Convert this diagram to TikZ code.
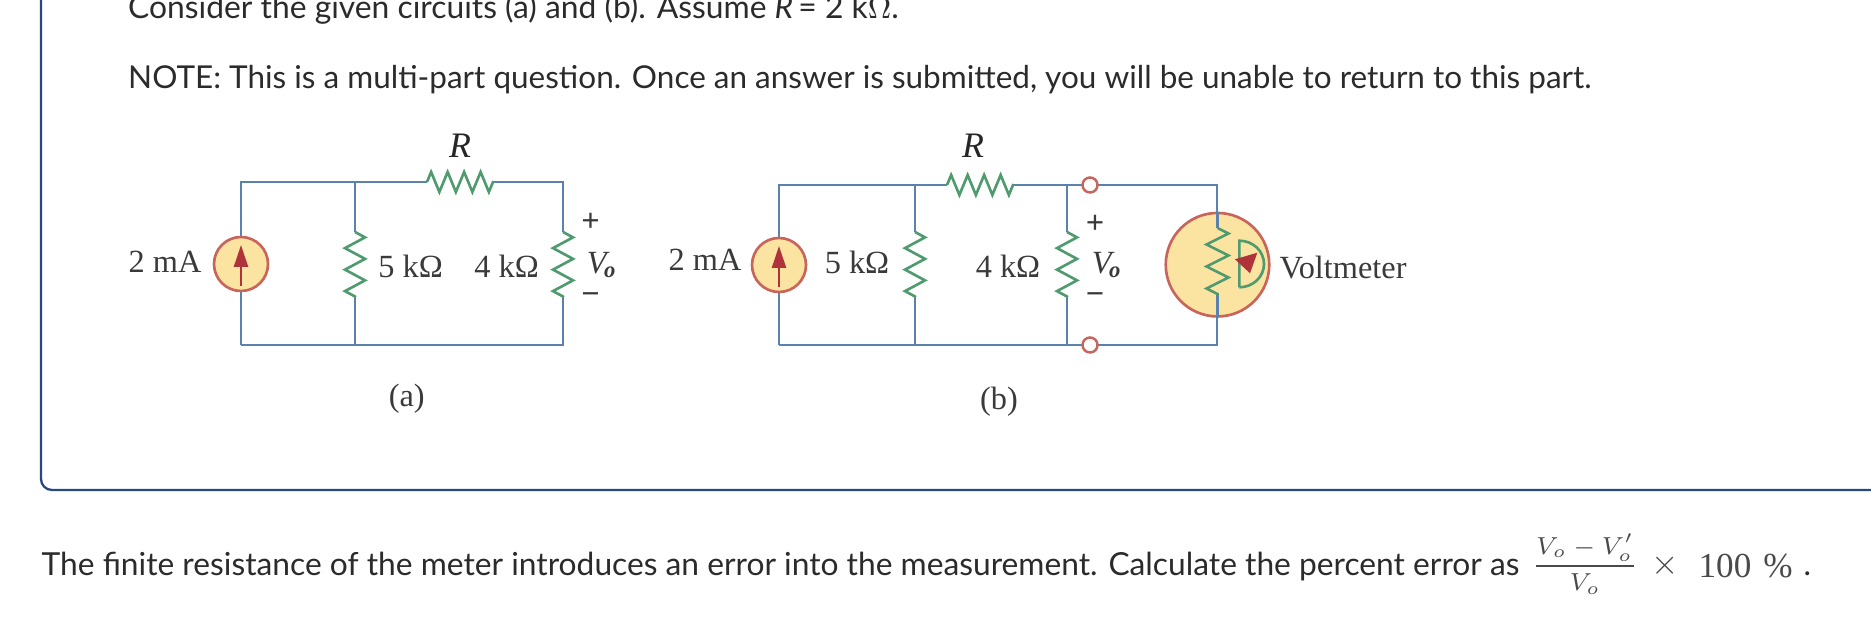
\documentclass[tikz,border=0pt]{standalone}
\usepackage{fontspec}
\setmainfont{Lato}
\newfontfamily\figfont{Liberation Serif}
\usetikzlibrary{arrows.meta,decorations.pathmorphing}
\definecolor{wireblue}{HTML}{5B82AE}
\definecolor{resgreen}{HTML}{4F9A6E}
\definecolor{srcfill}{HTML}{FBE4A2}
\definecolor{srcedge}{HTML}{C8645A}
\definecolor{srcarrow}{HTML}{B0323A}
\definecolor{framecol}{HTML}{27497F}
\definecolor{bodytext}{HTML}{2B2B2B}
\definecolor{mathtext}{HTML}{4A4A4A}
\definecolor{figtext}{HTML}{3A3A3A}
\newcommand{\Vout}{\textit{V\kern-0.08em\textsubscript{\textbf{o}}}}
\tikzset{
  wire/.style={draw=wireblue, line width=0.7pt},
  resistor/.style={draw=resgreen, line width=0.75pt, decorate, decoration={zigzag, segment length=0.165cm, amplitude=0.1cm}},
  vresistor/.style={draw=resgreen, line width=0.75pt, decorate, decoration={zigzag, segment length=0.215cm, amplitude=0.1cm}},
  source/.style={circle, draw=srcedge, fill=srcfill, line width=0.75pt, minimum size=0.54cm, inner sep=0pt},
  terminal/.style={circle, draw=srcedge, fill=white, line width=0.7pt, minimum size=0.15cm, inner sep=0pt},
  figlabel/.style={inner sep=0pt, text=figtext, font=\figfont\fontsize{9.2}{10}\selectfont},
  reslabel/.style={inner sep=0pt, text=black!85, font=\figfont\fontsize{10.2}{11}\selectfont\itshape},
  body/.style={anchor=base west, inner sep=0pt, text=bodytext, font=\fontsize{9}{10}\selectfont},
  mathlabel/.style={inner sep=0pt, text=mathtext, font=\fontsize{7.2}{9}\selectfont}
}
\begin{document}
\begin{tikzpicture}
        \useasboundingbox (0,0) rectangle (18.71,-6.24);
        \clip (0,0) rectangle (18.71,-6.24);

        \coordinate (frametop) at (0.41,0.1);
        \coordinate (framecorner) at (0.41,-4.9);
        \coordinate (frameend) at (18.9,-4.9);
        \draw[draw=framecol, line width=0.65pt, rounded corners=0.11cm] (frametop) -- (framecorner) -- (frameend);

        \node[body, font=\fontsize{9.05}{10}\selectfont] (line1) at (1.275,-0.19) {Consider the given circuits (a) and (b). Assume \textit{R}\,= 2 k$\Omega$.};
        \node[body, font=\fontsize{8.96}{10}\selectfont] (line2) at (1.275,-0.89) {NOTE: This is a multi-part question. Once an answer is submitted, you will be unable to return to this part.};
        \node[body, font=\fontsize{9.03}{10}\selectfont] (line3) at (0.41,-5.75) {The finite resistance of the meter introduces an error into the measurement. Calculate the percent error as};

        \node[mathlabel] (errfrac) at (15.85,-5.64) {$\displaystyle\frac{V_o - V_o'}{V_o}$};
        \node[mathlabel, font=\fontsize{10}{11}\selectfont] (errtimes) at (16.65,-5.66) {$\times$};
        \node[mathlabel] (errhund) at (17.25,-5.66) {\figfont\fontsize{10}{11}\selectfont 100};
        \node[mathlabel] (errpct) at (17.78,-5.66) {\figfont\fontsize{10}{11}\selectfont\%};
        \node[body] (errdot) at (18.03,-5.75) {.};

        % circuit a
        \coordinate (atl) at (2.41,-1.82);
        \coordinate (atm) at (3.55,-1.82);
        \coordinate (atr) at (5.63,-1.82);
        \coordinate (abl) at (2.41,-3.45);
        \coordinate (abm) at (3.55,-3.45);
        \coordinate (abr) at (5.63,-3.45);
        \coordinate (ar1) at (4.27,-1.82);
        \coordinate (ar2) at (4.93,-1.82);
        \coordinate (am1) at (3.55,-2.32);
        \coordinate (am2) at (3.55,-2.97);
        \coordinate (ab1) at (5.63,-2.32);
        \coordinate (ab2) at (5.63,-2.97);

        \draw[wire] (abl) -- (atl) -- (atm) -- (ar1);
        \draw[wire] (ar2) -- (atr) -- (ab1);
        \draw[wire] (ab2) -- (abr) -- (abl);
        \draw[wire] (atm) -- (am1);
        \draw[wire] (am2) -- (abm);
        \draw[resistor] (ar1) -- (ar2);
        \draw[vresistor] (am1) -- (am2);
        \draw[vresistor] (ab1) -- (ab2);

        \node[source] (asrc) at (2.41,-2.64) {};
        \draw[draw=srcarrow, line width=0.7pt, -{Triangle[length=0.22cm,width=0.14cm]}] (2.41,-2.86) -- (2.41,-2.45);

        \node[figlabel] (aamp) at (1.65,-2.62) {2 mA};
        \node[figlabel] (afive) at (4.107,-2.66) {5 kΩ};
        \node[figlabel] (afour) at (5.067,-2.66) {4 kΩ};
        \node[figlabel] (aplus) at (5.907,-2.22) {\textbf{+}};
        \node[figlabel] (avo) at (6.02,-2.65) {\Vout};
        \node[figlabel] (aminus) at (5.907,-2.99) {\textbf{−}};
        \node[reslabel] (ar) at (4.6,-1.46) {R};
        \node[figlabel] (acap) at (4.067,-3.99) {(a)};

        % circuit b
        \coordinate (btl) at (7.79,-1.85);
        \coordinate (btm) at (9.15,-1.85);
        \coordinate (btr) at (10.67,-1.85);
        \coordinate (bte) at (12.17,-1.85);
        \coordinate (bbl) at (7.79,-3.45);
        \coordinate (bbm) at (9.15,-3.45);
        \coordinate (bbr) at (10.67,-3.45);
        \coordinate (bbe) at (12.17,-3.45);
        \coordinate (br1) at (9.47,-1.85);
        \coordinate (br2) at (10.13,-1.85);
        \coordinate (bm1) at (9.15,-2.32);
        \coordinate (bm2) at (9.15,-2.97);
        \coordinate (bb1) at (10.67,-2.32);
        \coordinate (bb2) at (10.67,-2.97);

        \draw[wire] (bbl) -- (btl) -- (btm) -- (br1);
        \draw[wire] (br2) -- (btr) -- (bte) -- (bbe) -- (bbl);
        \draw[wire] (btm) -- (bm1);
        \draw[wire] (bm2) -- (bbm);
        \draw[wire] (btr) -- (bb1);
        \draw[wire] (bb2) -- (bbr);
        \draw[resistor] (br1) -- (br2);
        \draw[vresistor] (bm1) -- (bm2);
        \draw[vresistor] (bb1) -- (bb2);

        \node[source] (bsrc) at (7.79,-2.65) {};
        \draw[draw=srcarrow, line width=0.7pt, -{Triangle[length=0.22cm,width=0.14cm]}] (7.79,-2.87) -- (7.79,-2.46);

        \node[terminal] (btop) at (10.9,-1.85) {};
        \node[terminal] (bbot) at (10.9,-3.45) {};

        \node[source, minimum size=1.035cm] (meter) at (12.175,-2.647) {};
        \coordinate (bv1) at (12.175,-2.28);
        \coordinate (bv2) at (12.175,-2.95);
        \draw[wire] (meter.north) -- (bv1);
        \draw[wire] (meter.south) -- (bv2);
        \draw[vresistor, decoration={segment length=0.22cm, amplitude=0.11cm}] (bv1) -- (bv2);
        \coordinate (dtop) at (12.393,-2.407);
        \coordinate (dbot) at (12.393,-2.873);
        \draw[draw=resgreen, line width=0.75pt] (dbot) -- (dtop) arc[start angle=90, end angle=-90, x radius=0.247cm, y radius=0.233cm];
        \fill[srcarrow] (12.35,-2.593) -- (12.573,-2.527) -- (12.5,-2.733) -- cycle;

        \node[figlabel] (bamp) at (7.05,-2.6) {2 mA};
        \node[figlabel] (bfive) at (8.57,-2.62) {5 kΩ};
        \node[figlabel] (bfour) at (10.08,-2.66) {4 kΩ};
        \node[figlabel] (bplus) at (10.95,-2.24) {\textbf{+}};
        \node[figlabel] (bvo) at (11.07,-2.65) {\Vout};
        \node[figlabel] (bminus) at (10.95,-2.99) {\textbf{−}};
        \node[reslabel] (br) at (9.73,-1.46) {R};
        \node[figlabel] (bcap) at (9.99,-4.02) {(b)};
        \node[figlabel] (bvolt) at (13.43,-2.68) {Voltmeter};
\end{tikzpicture}
\end{document}
